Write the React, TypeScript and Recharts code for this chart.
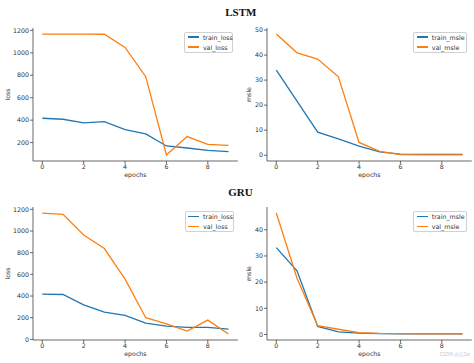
import React from 'react';
import { LineChart, Line, XAxis, YAxis, Legend } from 'recharts';

const epochs = [0, 1, 2, 3, 4, 5, 6, 7, 8, 9];
const xTicks = [0, 2, 4, 6, 8];

const lstmTrainLoss = [417, 408, 376, 387, 316, 277, 170, 152, 131, 120];
const lstmValLoss = [1167, 1167, 1166, 1165, 1048, 787, 90, 254, 185, 176];
const lstmTrainMsle = [34.0, 21.6, 9.2, 6.5, 3.6, 1.3, 0.4, 0.3, 0.3, 0.3];
const lstmValMsle = [48.4, 40.9, 38.4, 31.3, 5.1, 1.5, 0.2, 0.1, 0.1, 0.1];

const gruTrainLoss = [417, 414, 319, 252, 221, 150, 123, 110, 110, 95];
const gruValLoss = [1166, 1154, 964, 838, 556, 200, 144, 77, 178, 50];
const gruTrainMsle = [33.2, 24.3, 3.1, 1.0, 0.5, 0.3, 0.2, 0.2, 0.2, 0.2];
const gruValMsle = [46.4, 21.5, 3.4, 2.0, 0.7, 0.4, 0.3, 0.2, 0.2, 0.2];

const lstmLossTicks = [200, 400, 600, 800, 1000, 1200];
const gruLossTicks = [0, 200, 400, 600, 800, 1000, 1200];
const lstmMsleTicks = [0, 10, 20, 30, 40, 50];
const gruMsleTicks = [0, 10, 20, 30, 40];

const BLUE = '#1f77b4';
const ORANGE = '#ff7f0e';
const SPINE = '#444';
const TEXT = '#333';
const FONT = 'DejaVu Sans';
const FS = 6.3;

const YW = 34;
const MT = 4;
const MR = 2;
const XH = 24;

type PanelProps = {
  left: number;
  top: number;
  w: number;
  h: number;
  train: number[];
  val: number[];
  trainName: string;
  valName: string;
  ticks: number[];
  ylabel: string;
  ylabelOff: number;
  legendW: number;
};

function Panel(p: PanelProps) {
  const data = epochs.map((e, i) => ({ epoch: e, train: p.train[i], val: p.val[i] }));
  const all = [...p.train, ...p.val];
  const mn = Math.min(...all);
  const mx = Math.max(...all);
  const pad = (mx - mn) * 0.05;
  const domain: [number, number] = [mn - pad, mx + pad];
  const xDomain: [number, number] = [-0.45, 9.45];
  const tickStyle = { fontSize: FS, fill: TEXT, fontFamily: FONT };

  const yLabel = () => {
    const x = YW - p.ylabelOff;
    const y = MT + p.h / 2;
    return (
      <text
        x={x}
        y={y}
        transform={`rotate(-90 ${x} ${y})`}
        textAnchor="middle"
        dominantBaseline="central"
        fontSize={FS}
        fontFamily={FONT}
        fill={TEXT}
      >
        {p.ylabel}
      </text>
    );
  };
  const xLabel = () => (
    <text
      x={YW + p.w / 2}
      y={MT + p.h + 16.5}
      textAnchor="middle"
      fontSize={FS}
      fontFamily={FONT}
      fill={TEXT}
    >
      epochs
    </text>
  );

  const legendContent = () => (
    <div
      style={{
        width: p.legendW,
        height: 21,
        boxSizing: 'border-box',
        border: '0.8px solid #d0d0d0',
        borderRadius: 2,
        background: 'rgba(255,255,255,0.85)',
        fontFamily: FONT,
        fontSize: FS,
        color: TEXT,
        position: 'relative',
      }}
    >
      {[
        { name: p.trainName, color: BLUE, y: 4.5 },
        { name: p.valName, color: ORANGE, y: 14.5 },
      ].map((r) => (
        <div key={r.name}>
          <div
            style={{
              position: 'absolute',
              left: 2.4,
              top: r.y - 0.7,
              width: 11.6,
              height: 1.4,
              background: r.color,
            }}
          />
          <div
            style={{
              position: 'absolute',
              left: 17.6,
              top: r.y - 4.5,
              lineHeight: '9px',
              whiteSpace: 'nowrap',
            }}
          >
            {r.name}
          </div>
        </div>
      ))}
    </div>
  );

  return (
    <div style={{ position: 'absolute', left: p.left - YW, top: p.top - MT }}>
      <LineChart
        width={YW + p.w + MR}
        height={MT + p.h + XH}
        data={data}
        margin={{ top: MT, right: MR, bottom: 0, left: 0 }}
      >
        <XAxis
          dataKey="epoch"
          type="number"
          domain={xDomain}
          allowDataOverflow
          ticks={xTicks}
          height={XH}
          tickSize={3}
          tickMargin={1}
          tick={tickStyle}
          tickLine={{ stroke: SPINE, strokeWidth: 0.8 }}
          axisLine={{ stroke: SPINE, strokeWidth: 0.8 }}
          label={xLabel}
        />
        <XAxis
          xAxisId="top"
          orientation="top"
          dataKey="epoch"
          type="number"
          domain={xDomain}
          allowDataOverflow
          height={0}
          tick={false}
          tickLine={false}
          axisLine={{ stroke: SPINE, strokeWidth: 0.8 }}
        />
        <YAxis
          type="number"
          domain={domain}
          allowDataOverflow
          ticks={p.ticks}
          width={YW}
          tickSize={3}
          tickMargin={1}
          tick={tickStyle}
          tickLine={{ stroke: SPINE, strokeWidth: 0.8 }}
          axisLine={{ stroke: SPINE, strokeWidth: 0.8 }}
          label={yLabel}
        />
        <YAxis
          yAxisId="right"
          orientation="right"
          type="number"
          domain={domain}
          allowDataOverflow
          width={0}
          tick={false}
          tickLine={false}
          axisLine={{ stroke: SPINE, strokeWidth: 0.8 }}
        />
        <Line
          dataKey="train"
          name={p.trainName}
          stroke={BLUE}
          strokeWidth={1.3}
          dot={false}
          isAnimationActive={false}
        />
        <Line
          dataKey="val"
          name={p.valName}
          stroke={ORANGE}
          strokeWidth={1.3}
          dot={false}
          isAnimationActive={false}
        />
        <Legend
          layout="horizontal"
          verticalAlign="middle"
          align="center"
          wrapperStyle={{
            left: YW + p.w - 4 - p.legendW,
            top: MT + 3.5,
            width: p.legendW,
            height: 21,
          }}
          content={legendContent}
        />
      </LineChart>
    </div>
  );
}

export default function App() {
  const W = 204.8;
  const H = 133;
  return (
    <div
      style={{
        position: 'absolute',
        left: 0,
        top: 0,
        width: 474,
        height: 363,
        background: '#fff',
        overflow: 'hidden',
      }}
    >
      <svg width={474} height={363} style={{ position: 'absolute', left: 0, top: 0 }}>
        <text
          x={240.8}
          y={16}
          textAnchor="middle"
          fontFamily="Liberation Serif"
          fontWeight="bold"
          fontSize={11}
          fill="#111"
        >
          LSTM
        </text>
        <text
          x={240.5}
          y={195.5}
          textAnchor="middle"
          fontFamily="Liberation Serif"
          fontWeight="bold"
          fontSize={11}
          fill="#111"
        >
          GRU
        </text>
        <text x={470} y={356} textAnchor="end" fontFamily="Noto Sans CJK SC" fontSize={5} fill="#c4c4c4">
          CSDN @江Sir
        </text>
      </svg>
      <Panel
        left={32.5}
        top={28}
        w={W}
        h={H}
        train={lstmTrainLoss}
        val={lstmValLoss}
        trainName="train_loss"
        valName="val_loss"
        ticks={lstmLossTicks}
        ylabel="loss"
        ylabelOff={25.5}
        legendW={49}
      />
      <Panel
        left={266.7}
        top={28}
        w={W}
        h={H}
        train={lstmTrainMsle}
        val={lstmValMsle}
        trainName="train_msle"
        valName="val_msle"
        ticks={lstmMsleTicks}
        ylabel="msle"
        ylabelOff={18}
        legendW={54.3}
      />
      <Panel
        left={32.7}
        top={207.3}
        w={W}
        h={H}
        train={gruTrainLoss}
        val={gruValLoss}
        trainName="train_loss"
        valName="val_loss"
        ticks={gruLossTicks}
        ylabel="loss"
        ylabelOff={25.5}
        legendW={49}
      />
      <Panel
        left={266.7}
        top={207.3}
        w={W}
        h={H}
        train={gruTrainMsle}
        val={gruValMsle}
        trainName="train_msle"
        valName="val_msle"
        ticks={gruMsleTicks}
        ylabel="msle"
        ylabelOff={18}
        legendW={54.3}
      />
    </div>
  );
}
